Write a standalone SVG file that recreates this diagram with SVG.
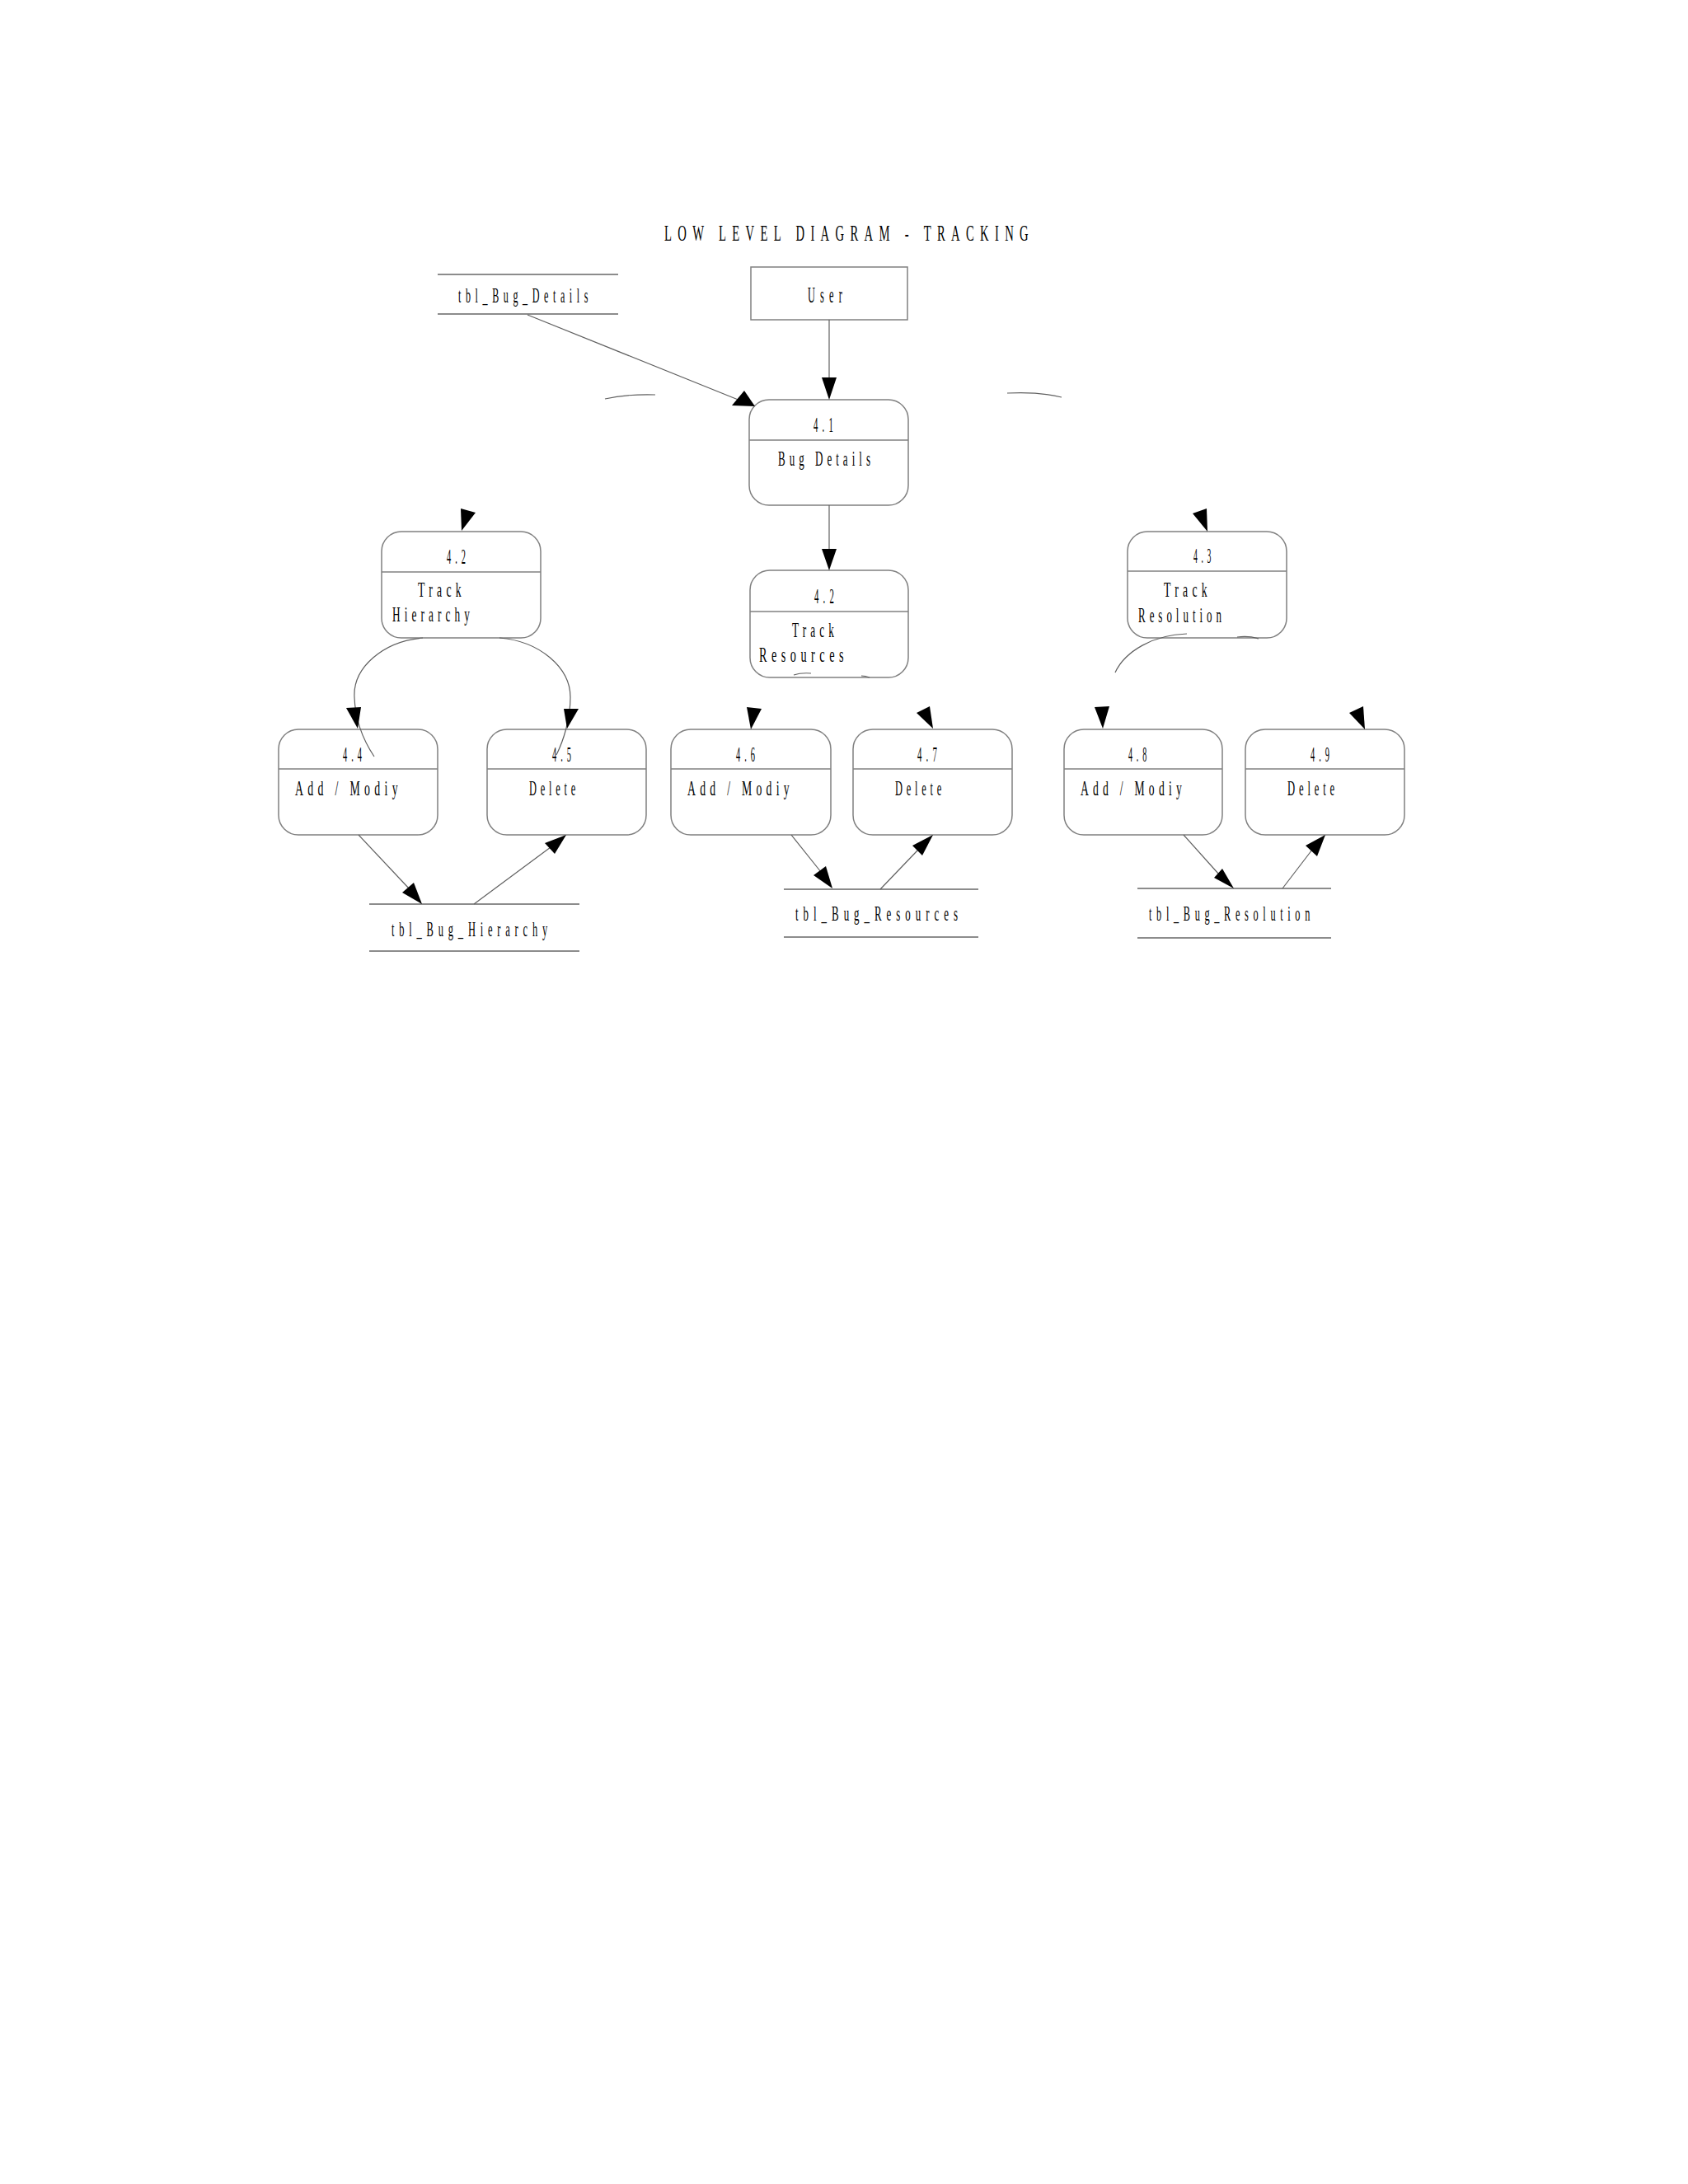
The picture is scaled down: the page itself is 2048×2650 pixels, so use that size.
<svg xmlns="http://www.w3.org/2000/svg" width="2048" height="2650" viewBox="0 0 2048 2650">
<style>
.bg{fill:#ffffff}
.box{fill:#ffffff;stroke:#808080;stroke-width:1.5}
.div{stroke:#808080;stroke-width:1.5}
.store{stroke:#8c8c8c;stroke-width:2}
.con{fill:none;stroke:#606060;stroke-width:1.2}
.head{fill:#000000;stroke:none}
text{font-family:"Liberation Serif","Times New Roman",serif;fill:#000000}
.num{font-size:25px;letter-spacing:12px}
.lbl{font-size:26px;letter-spacing:10px}
.st{font-size:26px;letter-spacing:12px}
.usr{font-size:28px;letter-spacing:14px}
.ttl{font-size:28px;letter-spacing:14px}
</style>
<rect class="bg" x="0" y="0" width="2048" height="2650"/>
<text class="ttl" x="806" y="292" textLength="449" lengthAdjust="spacingAndGlyphs">LOW LEVEL DIAGRAM - TRACKING</text>

<g id="tbl_Bug_Details">
<line class="store" x1="531" y1="333" x2="750" y2="333"/>
<line class="store" x1="531" y1="381" x2="750" y2="381"/>
<text class="st" x="556" y="367" textLength="163" lengthAdjust="spacingAndGlyphs">tbl_Bug_Details</text>
</g>

<g id="User">
<rect class="box" x="911" y="324" width="190" height="64"/>
<text class="usr" x="980" y="367" textLength="48" lengthAdjust="spacingAndGlyphs">User</text>
</g>

<g id="p4_1">
<rect class="box" x="909" y="485" width="193" height="128" rx="24" ry="24"/>
<line class="div" x1="909" y1="534" x2="1102" y2="534"/>
<text class="num" x="987" y="524" textLength="29" lengthAdjust="spacingAndGlyphs">4.1</text>
<text class="lbl" x="944" y="565" textLength="117" lengthAdjust="spacingAndGlyphs">Bug Details</text>
</g>

<g id="p4_2_hierarchy">
<rect class="box" x="463" y="645" width="193" height="129" rx="24" ry="24"/>
<line class="div" x1="463" y1="694" x2="656" y2="694"/>
<text class="num" x="542" y="684" textLength="28" lengthAdjust="spacingAndGlyphs">4.2</text>
<text class="lbl" x="507" y="724" textLength="58" lengthAdjust="spacingAndGlyphs">Track</text>
<text class="lbl" x="476" y="754" textLength="99" lengthAdjust="spacingAndGlyphs">Hierarchy</text>
</g>

<g id="p4_2_resources">
<rect class="box" x="910" y="692" width="192" height="130" rx="24" ry="24"/>
<line class="div" x1="910" y1="742" x2="1102" y2="742"/>
<text class="num" x="988" y="732" textLength="29" lengthAdjust="spacingAndGlyphs">4.2</text>
<text class="lbl" x="961" y="773" textLength="56" lengthAdjust="spacingAndGlyphs">Track</text>
<text class="lbl" x="921" y="803" textLength="108" lengthAdjust="spacingAndGlyphs">Resources</text>
</g>

<g id="p4_3">
<rect class="box" x="1368" y="645" width="193" height="129" rx="24" ry="24"/>
<line class="div" x1="1368" y1="693" x2="1561" y2="693"/>
<text class="num" x="1448" y="683" textLength="26" lengthAdjust="spacingAndGlyphs">4.3</text>
<text class="lbl" x="1412" y="724" textLength="58" lengthAdjust="spacingAndGlyphs">Track</text>
<text class="lbl" x="1381" y="755" textLength="106" lengthAdjust="spacingAndGlyphs">Resolution</text>
</g>

<g id="p4_4">
<rect class="box" x="338" y="885" width="193" height="128" rx="24" ry="24"/>
<line class="div" x1="338" y1="933" x2="531" y2="933"/>
<text class="num" x="416" y="924" textLength="28" lengthAdjust="spacingAndGlyphs">4.4</text>
<text class="lbl" x="358" y="965" textLength="130" lengthAdjust="spacingAndGlyphs">Add / Modiy</text>
</g>

<g id="p4_5">
<rect class="box" x="591" y="885" width="193" height="128" rx="24" ry="24"/>
<line class="div" x1="591" y1="933" x2="784" y2="933"/>
<text class="num" x="670" y="924" textLength="28" lengthAdjust="spacingAndGlyphs">4.5</text>
<text class="lbl" x="642" y="965" textLength="61" lengthAdjust="spacingAndGlyphs">Delete</text>
</g>

<g id="p4_6">
<rect class="box" x="814" y="885" width="194" height="128" rx="24" ry="24"/>
<line class="div" x1="814" y1="933" x2="1008" y2="933"/>
<text class="num" x="893" y="924" textLength="28" lengthAdjust="spacingAndGlyphs">4.6</text>
<text class="lbl" x="834" y="965" textLength="129" lengthAdjust="spacingAndGlyphs">Add / Modiy</text>
</g>

<g id="p4_7">
<rect class="box" x="1035" y="885" width="193" height="128" rx="24" ry="24"/>
<line class="div" x1="1035" y1="933" x2="1228" y2="933"/>
<text class="num" x="1113" y="924" textLength="29" lengthAdjust="spacingAndGlyphs">4.7</text>
<text class="lbl" x="1086" y="965" textLength="61" lengthAdjust="spacingAndGlyphs">Delete</text>
</g>

<g id="p4_8">
<rect class="box" x="1291" y="885" width="192" height="128" rx="24" ry="24"/>
<line class="div" x1="1291" y1="933" x2="1483" y2="933"/>
<text class="num" x="1369" y="924" textLength="27" lengthAdjust="spacingAndGlyphs">4.8</text>
<text class="lbl" x="1311" y="965" textLength="128" lengthAdjust="spacingAndGlyphs">Add / Modiy</text>
</g>

<g id="p4_9">
<rect class="box" x="1511" y="885" width="193" height="128" rx="24" ry="24"/>
<line class="div" x1="1511" y1="933" x2="1704" y2="933"/>
<text class="num" x="1590" y="924" textLength="28" lengthAdjust="spacingAndGlyphs">4.9</text>
<text class="lbl" x="1562" y="965" textLength="62" lengthAdjust="spacingAndGlyphs">Delete</text>
</g>

<g id="tbl_Bug_Hierarchy">
<line class="store" x1="448" y1="1097" x2="703" y2="1097"/>
<line class="store" x1="448" y1="1154" x2="703" y2="1154"/>
<text class="st" x="475" y="1136" textLength="195" lengthAdjust="spacingAndGlyphs">tbl_Bug_Hierarchy</text>
</g>

<g id="tbl_Bug_Resources">
<line class="store" x1="951" y1="1079" x2="1187" y2="1079"/>
<line class="store" x1="951" y1="1137" x2="1187" y2="1137"/>
<text class="st" x="965" y="1117" textLength="203" lengthAdjust="spacingAndGlyphs">tbl_Bug_Resources</text>
</g>

<g id="tbl_Bug_Resolution">
<line class="store" x1="1380" y1="1078" x2="1615" y2="1078"/>
<line class="store" x1="1380" y1="1138" x2="1615" y2="1138"/>
<text class="st" x="1394" y="1117" textLength="201" lengthAdjust="spacingAndGlyphs">tbl_Bug_Resolution</text>
</g>

<g id="connectors">
<line class="con" x1="1006" y1="388" x2="1006" y2="460"/>
<polygon class="head" points="1006,485 997,458 1015,458"/>
<line class="con" x1="640" y1="382" x2="898" y2="486"/>
<polygon class="head" points="916,493 888,492 903,474"/>
<line class="con" x1="1006" y1="613" x2="1006" y2="668"/>
<polygon class="head" points="1006,692 997,666 1015,666"/>
<path class="con" d="M734,484 Q760,478 795,479"/>
<path class="con" d="M1222,477 Q1260,475 1288,482"/>
<path class="con" d="M963,819 Q972,816 984,817"/>
<path class="con" d="M1045,820 Q1050,820 1055,822"/>
<path class="con" d="M1440,769 C1400,770 1365,790 1353,816"/>
<path class="con" d="M1501,773 Q1515,771 1527,775"/>
<path class="con" d="M513,774 C465,778 428,810 430,846 C431,875 442,900 454,918"/>
<polygon class="head" points="434,884 420,859 438,858"/>
<path class="con" d="M606,774 C655,778 692,810 692,846 C692,872 684,898 675,916"/>
<polygon class="head" points="688,884 684,860 702,860"/>
<polygon class="head" points="560,644 559,617 577,622"/>
<polygon class="head" points="1465,645 1447,623 1464,617"/>
<polygon class="head" points="911,885 906,858 924,860"/>
<polygon class="head" points="1132,884 1112,865 1128,857"/>
<polygon class="head" points="1338,884 1328,858 1346,857"/>
<polygon class="head" points="1656,885 1637,865 1654,857"/>
<line class="con" x1="435" y1="1013" x2="498" y2="1080"/>
<polygon class="head" points="512,1097 488,1083 502,1071"/>
<line class="con" x1="575" y1="1097" x2="668" y2="1028"/>
<polygon class="head" points="687,1013 661,1023 673,1036"/>
<line class="con" x1="960" y1="1013" x2="996" y2="1058"/>
<polygon class="head" points="1010,1078 987,1062 1002,1051"/>
<line class="con" x1="1068" y1="1079" x2="1114" y2="1031"/>
<polygon class="head" points="1132,1013 1107,1026 1119,1038"/>
<line class="con" x1="1436" y1="1013" x2="1479" y2="1061"/>
<polygon class="head" points="1497,1078 1473,1065 1483,1054"/>
<line class="con" x1="1556" y1="1078" x2="1592" y2="1031"/>
<polygon class="head" points="1608,1013 1584,1026 1598,1039"/>
</g>
</svg>
